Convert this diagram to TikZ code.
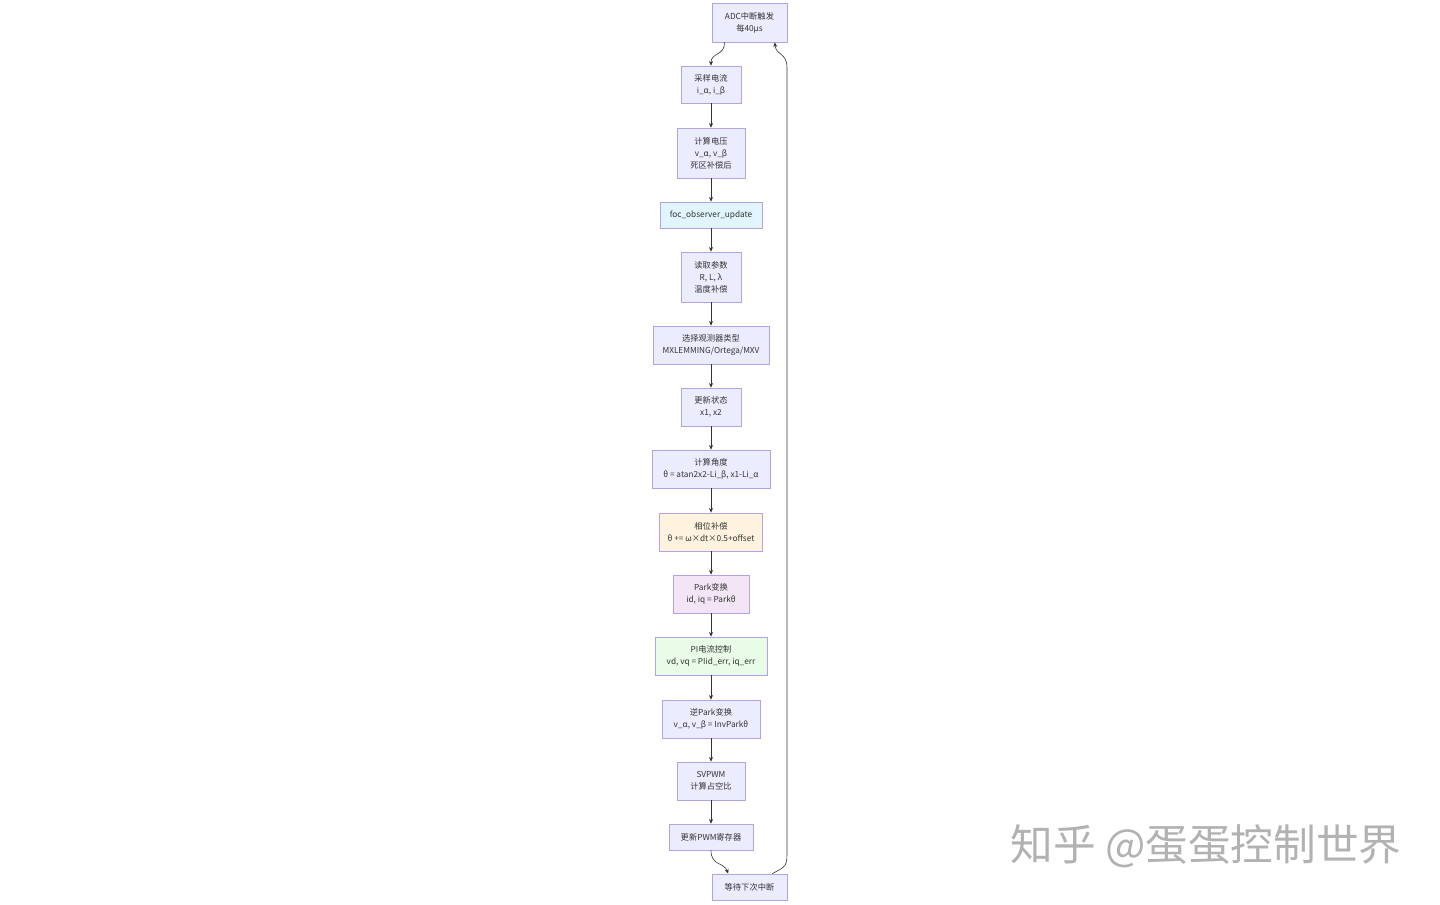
\documentclass[tikz,border=0pt]{standalone}
\usepackage{fontspec}
\setmainfont{Noto Sans CJK SC}
\usetikzlibrary{arrows.meta}
\definecolor{boxfill}{HTML}{ECECFF}
\definecolor{boxline}{HTML}{B3A3E3}
\definecolor{focfill}{HTML}{E1F5FE}
\definecolor{phasefill}{HTML}{FFF3E0}
\definecolor{parkfill}{HTML}{F3E5F5}
\definecolor{pifill}{HTML}{E8FCE8}
\definecolor{edge}{HTML}{333333}
\tikzset{
  box/.style={draw=boxline, fill=boxfill, line width=0.5pt, align=center,
    inner sep=0pt, text=edge, font=\fontsize{6.2}{9}\selectfont},
  sz/.style 2 args={minimum width=#1*0.75pt, minimum height=#2*0.75pt},
  arr/.style={draw=edge, line width=0.45pt, -{Stealth[length=3.5pt,width=3pt]}}
}
\begin{document}
\begin{tikzpicture}[x=0.75pt,y=-0.75pt]
\useasboundingbox[fill=white] (0,0) rectangle (1440,905);
\node[box, sz={75}{39}] (adc) at (749.5,22.5) {ADC中断触发\\每40μs};
\node[box, sz={60}{37}] (sample) at (711,84.5) {采样电流\\i\_α, i\_β};
\node[box, sz={68}{50}] (volt) at (711,153) {计算电压\\v\_α, v\_β\\死区补偿后};
\node[box, sz={102}{26}, fill=focfill] (foc) at (711,215) {foc\_observer\_update};
\node[box, sz={60}{50}] (param) at (711,277) {读取参数\\R, L, λ\\温度补偿};
\node[box, sz={116}{38}] (select) at (711,345) {选择观测器类型\\MXLEMMING/Ortega/MXV};
\node[box, sz={60}{38}] (state) at (711,407) {更新状态\\x1, x2};
\node[box, sz={118}{38}] (angle) at (711,469) {计算角度\\θ = atan2x2-Li\_β, x1-Li\_α};
\node[box, sz={103}{38}, fill=phasefill] (phase) at (711,532) {相位补偿\\θ += ω×dt×0.5+offset};
\node[box, sz={76}{38}, fill=parkfill] (park) at (711,594) {Park变换\\id, iq = Parkθ};
\node[box, sz={112}{38}, fill=pifill] (pi) at (711,656) {PI电流控制\\vd, vq = PIid\_err, iq\_err};
\node[box, sz={98}{38}] (ipark) at (711,719) {逆Park变换\\v\_α, v\_β = InvParkθ};
\node[box, sz={68}{38}] (svpwm) at (711,781) {SVPWM\\计算占空比};
\node[box, sz={84}{26}] (pwm) at (711,837) {更新PWM寄存器};
\node[box, sz={75}{26}] (wait) at (749.5,887) {等待下次中断};
% loop back on the right
\coordinate (rtlow) at (787,850);
\coordinate (rtup) at (787,68);
\draw[arr] ([xshift=-18.75pt]adc.south) .. controls (725,56) and (711,52) .. (sample.north);
\foreach \a/\b in {sample/volt, volt/foc, foc/param, param/select, select/state,
  state/angle, angle/phase, phase/park, park/pi, pi/ipark, ipark/svpwm, svpwm/pwm}
  \draw[arr] (\a) -- (\b);
\draw[arr] (pwm.south) .. controls (711,866) and (724,862) .. ([xshift=-16pt]wait.north);
\draw[arr] ([xshift=17pt]wait.north) .. controls (787,866) .. (rtlow) -- (rtup)
  .. controls (787,52) and (776,56) .. ([xshift=19pt]adc.south);
% watermark
\node[text=black!30, font=\fontsize{32}{34}\selectfont] (mark) at (1206,846) {知乎 @蛋蛋控制世界};
\end{tikzpicture}
\end{document}
